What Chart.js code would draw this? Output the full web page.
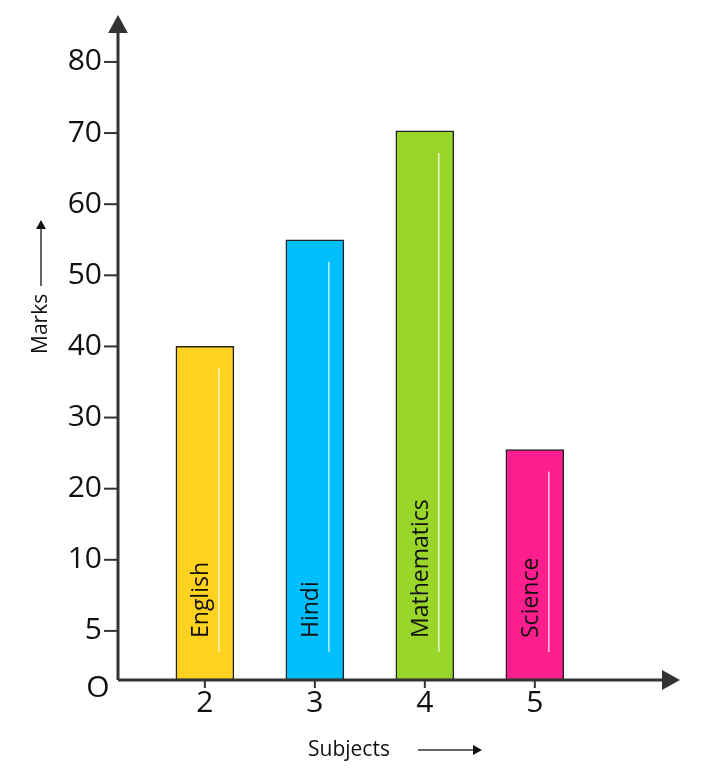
<!DOCTYPE html>
<html><head><meta charset="utf-8">
<script src="https://cdn.jsdelivr.net/npm/chart.js@4/dist/chart.umd.min.js"></script>
<style>html,body{margin:0;background:#fff}#c{display:block}</style>
</head><body>
<canvas id="c" width="713" height="773"></canvas>
<script>
const subjects = ["English", "Hindi", "Mathematics", "Science"];
const xPositions = [2, 3, 4, 5];
const marks = [40, 55, 70.3, 25.5];
const barColors = ["#FFD21F", "#00BFFF", "#9AD62A", "#FF1E8E"];
const yTickValues = [0, 10, 20, 30, 40, 50, 60, 70, 80];
const yTickLabels = ["5", "10", "20", "30", "40", "50", "60", "70", "80"];
const yMin = -6.9, yMax = 86.6;
const FONT = '"Open Sans", sans-serif';

function arrowHead(c, x, y, dir, s) {
  c.beginPath();
  if (dir === "up") { c.moveTo(x, y); c.lineTo(x - s * 0.55, y + s); c.lineTo(x + s * 0.55, y + s); }
  else { c.moveTo(x, y); c.lineTo(x - s, y - s * 0.55); c.lineTo(x - s, y + s * 0.55); }
  c.closePath(); c.fill();
}

const axesPlugin = {
  id: "axes",
  afterDatasetsDraw(chart) {
    const c = chart.ctx, xs = chart.scales.x, ys = chart.scales.y;
    const x0 = xs.left, y0 = ys.bottom;
    c.save();
    c.strokeStyle = "#333"; c.fillStyle = "#333"; c.lineWidth = 3;
    c.beginPath(); c.moveTo(x0, y0); c.lineTo(x0, ys.top + 14); c.stroke();
    arrowHead(c, x0, ys.top, "up", 18);
    c.beginPath(); c.moveTo(x0, y0); c.lineTo(xs.right - 14, y0); c.stroke();
    arrowHead(c, xs.right, y0, "right", 18);
    c.fillStyle = "#111";
    c.lineWidth = 2;
    c.font = "30px " + FONT; c.textAlign = "right"; c.textBaseline = "middle";
    yTickValues.forEach((v, i) => {
      const py = ys.getPixelForValue(v);
      c.beginPath(); c.moveTo(x0 - 14, py); c.lineTo(x0, py); c.stroke();
      c.fillText(yTickLabels[i], x0 - 16, py);
    });
    c.textAlign = "center";
    c.fillText("O", x0 - 20, y0 + 8);
    c.textBaseline = "top";
    xPositions.forEach(v => {
      const px = xs.getPixelForValue(v);
      c.beginPath(); c.moveTo(px, y0); c.lineTo(px, y0 + 8); c.stroke();
      c.fillText(String(v), px, y0 + 8);
    });
    const meta = chart.getDatasetMeta(0);
    meta.data.forEach((bar, i) => {
      c.save();
      c.strokeStyle = "rgba(255,255,255,0.75)"; c.lineWidth = 1.5;
      const hx = bar.x + 14;
      c.beginPath(); c.moveTo(hx, bar.y + 22); c.lineTo(hx, bar.base - 28); c.stroke();
      c.translate(bar.x - 3, bar.base - 42);
      c.rotate(-Math.PI / 2);
      c.fillStyle = "#111"; c.font = "23px " + FONT;
      c.textAlign = "left"; c.textBaseline = "middle";
      c.fillText(subjects[i], 0, 0);
      c.restore();
    });
    c.font = "21px " + FONT; c.textBaseline = "middle"; c.textAlign = "left";
    c.fillText("Subjects", 308, 750);
    c.lineWidth = 1.5;
    c.beginPath(); c.moveTo(418, 750); c.lineTo(474, 750); c.stroke();
    arrowHead(c, 482, 750, "right", 9);
    c.save();
    c.translate(41, 354); c.rotate(-Math.PI / 2);
    c.fillText("Marks", 0, 0);
    c.beginPath(); c.moveTo(68, 0); c.lineTo(126, 0); c.stroke();
    arrowHead(c, 134, 0, "right", 9);
    c.restore();
    c.restore();
  }
};

new Chart(document.getElementById("c"), {
  type: "bar",
  data: {
    datasets: [{
      data: xPositions.map((x, i) => ({ x: x, y: [yMin, marks[i]] })),
      backgroundColor: barColors,
      borderColor: "#222",
      borderWidth: 1.5,
      borderSkipped: false,
      barThickness: 58
    }]
  },
  options: {
    responsive: false,
    animation: false,
    layout: { padding: { left: 118, right: 33, top: 15, bottom: 93 } },
    plugins: { legend: { display: false }, tooltip: { enabled: false } },
    scales: {
      x: { type: "linear", offset: false, min: 1.21, max: 6.32, display: false },
      y: { min: yMin, max: yMax, display: false }
    }
  },
  plugins: [axesPlugin]
});
</script>
</body></html>
